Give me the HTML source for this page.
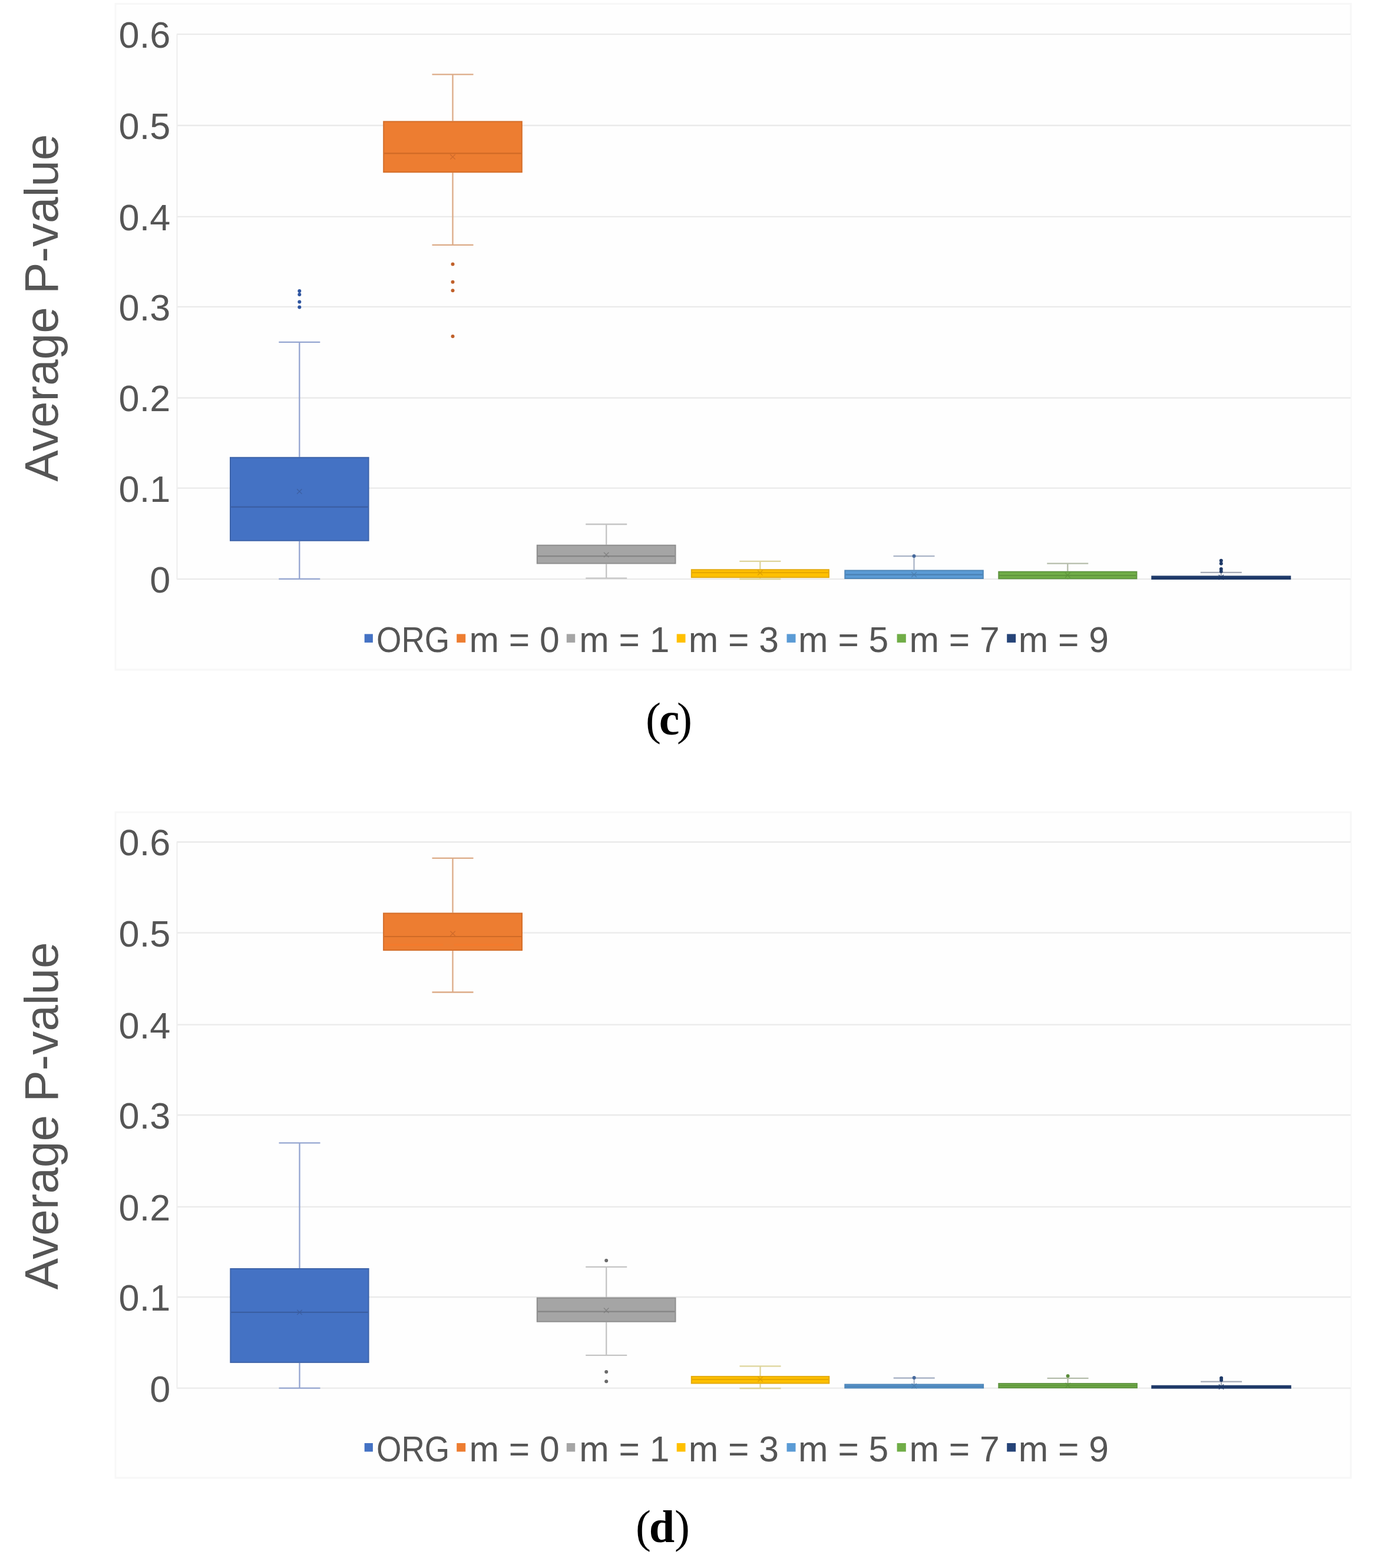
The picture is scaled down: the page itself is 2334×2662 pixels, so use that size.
<!DOCTYPE html><html><head><meta charset="utf-8"><title>Average P-value box plots (c) and (d)</title>
<style>html,body{margin:0;padding:0;background:#fff;}svg{display:block;}.t{font-family:"Liberation Sans",Arial,sans-serif;fill:#555555;}.cap{font-family:"Liberation Serif","Times New Roman",serif;font-weight:bold;fill:#000;}</style></head><body>
<svg width="2334" height="2662" viewBox="0 0 2334 2662">
<rect x="0" y="0" width="2334" height="2662" fill="#ffffff"/>
<rect x="196" y="6.5" width="2097" height="1130.5" fill="#FEFEFE" stroke="#F7F7F7" stroke-width="3"/>
<rect x="300.5" y="58.2" width="1992.2" height="925" fill="#FEFEFE"/>
<line x1="300" y1="983.2" x2="2292.7" y2="983.2" stroke="#EAEAEA" stroke-width="2.3"/>
<line x1="300" y1="828.7" x2="2292.7" y2="828.7" stroke="#EAEAEA" stroke-width="2.3"/>
<line x1="300" y1="675.5" x2="2292.7" y2="675.5" stroke="#EAEAEA" stroke-width="2.3"/>
<line x1="300" y1="520.9" x2="2292.7" y2="520.9" stroke="#EAEAEA" stroke-width="2.3"/>
<line x1="300" y1="367.8" x2="2292.7" y2="367.8" stroke="#EAEAEA" stroke-width="2.3"/>
<line x1="300" y1="213" x2="2292.7" y2="213" stroke="#EAEAEA" stroke-width="2.3"/>
<line x1="300" y1="58.2" x2="2292.7" y2="58.2" stroke="#EAEAEA" stroke-width="2.3"/>
<line x1="300.5" y1="58.2" x2="300.5" y2="983.2" stroke="#EEEEEE" stroke-width="2"/>
<text class="t" x="289.2" y="1006.1" font-size="63" text-anchor="end">0</text>
<text class="t" x="289.2" y="851.6" font-size="63" text-anchor="end">0.1</text>
<text class="t" x="289.2" y="698.4" font-size="63" text-anchor="end">0.2</text>
<text class="t" x="289.2" y="543.8" font-size="63" text-anchor="end">0.3</text>
<text class="t" x="289.2" y="390.7" font-size="63" text-anchor="end">0.4</text>
<text class="t" x="289.2" y="235.9" font-size="63" text-anchor="end">0.5</text>
<text class="t" x="289.2" y="81.1" font-size="63" text-anchor="end">0.6</text>
<text class="t" transform="translate(97.9,817.8) rotate(-90)" x="0" y="0" font-size="80">Average P-value</text>
<line x1="508.3" y1="580.9" x2="508.3" y2="775.8" stroke="#94A5D0" stroke-width="2.3"/>
<line x1="508.3" y1="918.8" x2="508.3" y2="982.8" stroke="#94A5D0" stroke-width="2.3"/>
<line x1="473.3" y1="580.9" x2="543.3" y2="580.9" stroke="#94A5D0" stroke-width="2.3"/>
<line x1="473.3" y1="982.8" x2="543.3" y2="982.8" stroke="#94A5D0" stroke-width="2.3"/>
<rect x="391" y="776.8" width="234.6" height="141" fill="#4472C4" stroke="#3E64AA" stroke-width="2"/>
<line x1="392" y1="860.6" x2="624.6" y2="860.6" stroke="#3A5EA2" stroke-width="2.2"/>
<path d="M504.1 830.2L512.5 838.6M512.5 830.2L504.1 838.6" stroke="#3C5C9C" stroke-width="1.4" fill="none" opacity="0.8"/>
<circle cx="508.3" cy="494" r="3" fill="#2F55A0"/>
<circle cx="508.3" cy="500" r="3" fill="#2F55A0"/>
<circle cx="508.3" cy="512.5" r="3" fill="#2F55A0"/>
<circle cx="508.3" cy="521.6" r="3" fill="#2F55A0"/>
<line x1="768.5" y1="126.4" x2="768.5" y2="205.4" stroke="#DCAA86" stroke-width="2.3"/>
<line x1="768.5" y1="293.2" x2="768.5" y2="415.9" stroke="#DCAA86" stroke-width="2.3"/>
<line x1="733.5" y1="126.4" x2="803.5" y2="126.4" stroke="#DCAA86" stroke-width="2.3"/>
<line x1="733.5" y1="415.9" x2="803.5" y2="415.9" stroke="#DCAA86" stroke-width="2.3"/>
<rect x="651.2" y="206.4" width="234.6" height="85.8" fill="#ED7D31" stroke="#D46E2A" stroke-width="2"/>
<line x1="652.2" y1="260.4" x2="884.8" y2="260.4" stroke="#D06A26" stroke-width="2.2"/>
<path d="M764.3 262.2L772.7 270.6M772.7 262.2L764.3 270.6" stroke="#C8662A" stroke-width="1.4" fill="none" opacity="0.8"/>
<circle cx="768.5" cy="448.4" r="3" fill="#C0602A"/>
<circle cx="768.5" cy="478.8" r="3" fill="#C0602A"/>
<circle cx="768.5" cy="493.2" r="3" fill="#C0602A"/>
<circle cx="768.5" cy="570.9" r="3" fill="#C0602A"/>
<line x1="1029.2" y1="890" x2="1029.2" y2="924.7" stroke="#C4C4C4" stroke-width="2.3"/>
<line x1="1029.2" y1="957.5" x2="1029.2" y2="981.7" stroke="#C4C4C4" stroke-width="2.3"/>
<line x1="994.2" y1="890" x2="1064.2" y2="890" stroke="#C4C4C4" stroke-width="2.3"/>
<line x1="994.2" y1="981.7" x2="1064.2" y2="981.7" stroke="#C4C4C4" stroke-width="2.3"/>
<rect x="911.8" y="925.7" width="234.7" height="30.8" fill="#A5A5A5" stroke="#8E8E8E" stroke-width="2"/>
<line x1="912.8" y1="944.2" x2="1145.5" y2="944.2" stroke="#858585" stroke-width="2.2"/>
<path d="M1025 937.7L1033.4 946.1M1033.4 937.7L1025 946.1" stroke="#7A7A7A" stroke-width="1.4" fill="none" opacity="0.8"/>
<line x1="1290.3" y1="952.9" x2="1290.3" y2="966.2" stroke="#DDD49A" stroke-width="2.3"/>
<line x1="1290.3" y1="981.2" x2="1290.3" y2="983" stroke="#DDD49A" stroke-width="2.3"/>
<line x1="1255.3" y1="952.9" x2="1325.3" y2="952.9" stroke="#DDD49A" stroke-width="2.3"/>
<line x1="1255.3" y1="983" x2="1325.3" y2="983" stroke="#DDD49A" stroke-width="2.3"/>
<rect x="1173.8" y="967.2" width="233.1" height="13" fill="#FFC000" stroke="#E3AA0C" stroke-width="2"/>
<line x1="1174.8" y1="972.2" x2="1405.9" y2="972.2" stroke="#E6A800" stroke-width="2.2"/>
<path d="M1286.1 968.3L1294.5 976.7M1294.5 968.3L1286.1 976.7" stroke="#D99A00" stroke-width="1.4" fill="none" opacity="0.8"/>
<line x1="1551.5" y1="944.1" x2="1551.5" y2="967.5" stroke="#A9B3C6" stroke-width="2.3"/>
<line x1="1551.5" y1="983" x2="1551.5" y2="981" stroke="#A9B3C6" stroke-width="2.3"/>
<line x1="1516.5" y1="944.1" x2="1586.5" y2="944.1" stroke="#A9B3C6" stroke-width="2.3"/>
<line x1="1516.5" y1="981" x2="1586.5" y2="981" stroke="#A9B3C6" stroke-width="2.3"/>
<rect x="1434.3" y="968.5" width="234.5" height="13.5" fill="#5B9BD5" stroke="#4E86B8" stroke-width="2"/>
<line x1="1435.3" y1="975.7" x2="1667.8" y2="975.7" stroke="#4A80B2" stroke-width="2.2"/>
<path d="M1547.3 971.3L1555.8 979.7M1555.8 971.3L1547.3 979.7" stroke="#4A7AAA" stroke-width="1.4" fill="none" opacity="0.8"/>
<circle cx="1551.5" cy="944" r="3" fill="#46699C"/>
<line x1="1812.3" y1="956.6" x2="1812.3" y2="969.7" stroke="#B4BCAA" stroke-width="2.3"/>
<line x1="1812.3" y1="983.3" x2="1812.3" y2="981" stroke="#B4BCAA" stroke-width="2.3"/>
<line x1="1777.3" y1="956.6" x2="1847.3" y2="956.6" stroke="#B4BCAA" stroke-width="2.3"/>
<line x1="1777.3" y1="981" x2="1847.3" y2="981" stroke="#B4BCAA" stroke-width="2.3"/>
<rect x="1695.3" y="970.7" width="234.1" height="11.6" fill="#70AD47" stroke="#5F9440" stroke-width="2"/>
<line x1="1696.3" y1="977" x2="1928.4" y2="977" stroke="#5E943C" stroke-width="2.2"/>
<path d="M1808.1 972.3L1816.5 980.7M1816.5 972.3L1808.1 980.7" stroke="#5A9038" stroke-width="1.4" fill="none" opacity="0.8"/>
<line x1="2072.8" y1="971.9" x2="2072.8" y2="977.4" stroke="#A4A9B6" stroke-width="2.3"/>
<line x1="2072.8" y1="984" x2="2072.8" y2="981" stroke="#A4A9B6" stroke-width="2.3"/>
<line x1="2037.8" y1="971.9" x2="2107.8" y2="971.9" stroke="#A4A9B6" stroke-width="2.3"/>
<line x1="2037.8" y1="981" x2="2107.8" y2="981" stroke="#A4A9B6" stroke-width="2.3"/>
<rect x="1955.3" y="978.4" width="235" height="4.6" fill="#264478" stroke="#1F3A68" stroke-width="2"/>
<line x1="1956.3" y1="981" x2="2189.3" y2="981" stroke="#1E3866" stroke-width="2.2"/>
<path d="M2068.6 975.8L2077 984.2M2077 975.8L2068.6 984.2" stroke="#1E3866" stroke-width="1.4" fill="none" opacity="0.8"/>
<circle cx="2072.8" cy="951.7" r="3" fill="#1F3A68"/>
<circle cx="2072.8" cy="956.7" r="3" fill="#1F3A68"/>
<circle cx="2072.8" cy="966" r="3" fill="#1F3A68"/>
<circle cx="2072.8" cy="970" r="3" fill="#1F3A68"/>
<rect x="618.7" y="1076.4" width="14.2" height="14.5" fill="#4472C4"/>
<text class="t" x="639" y="1107" font-size="60.6" textLength="124.3" lengthAdjust="spacingAndGlyphs">ORG</text>
<rect x="775.2" y="1076.4" width="15" height="14.5" fill="#ED7D31"/>
<text class="t" x="796.4" y="1107" font-size="60.6">m = 0</text>
<rect x="961.8" y="1076.4" width="14.4" height="14.5" fill="#A5A5A5"/>
<text class="t" x="983.2" y="1107" font-size="60.6">m = 1</text>
<rect x="1148.7" y="1076.4" width="14.8" height="14.5" fill="#FFC000"/>
<text class="t" x="1168.8" y="1107" font-size="60.6">m = 3</text>
<rect x="1335.5" y="1076.4" width="15" height="14.5" fill="#5B9BD5"/>
<text class="t" x="1355.1" y="1107" font-size="60.6">m = 5</text>
<rect x="1522.6" y="1076.4" width="15.2" height="14.5" fill="#70AD47"/>
<text class="t" x="1543.5" y="1107" font-size="60.6">m = 7</text>
<rect x="1709.2" y="1076.4" width="15" height="14.5" fill="#264478"/>
<text class="t" x="1728.8" y="1107" font-size="60.6">m = 9</text>
<text class="cap" y="1246.5" font-size="78"><tspan x="1096" font-weight="normal">(</tspan><tspan x="1118.8">c</tspan><tspan x="1149" font-weight="normal">)</tspan></text>
<rect x="196" y="1379" width="2097" height="1130" fill="#FEFEFE" stroke="#F7F7F7" stroke-width="3"/>
<rect x="300.5" y="1429.5" width="1992.2" height="927.2" fill="#FEFEFE"/>
<line x1="300" y1="2356.7" x2="2292.7" y2="2356.7" stroke="#EAEAEA" stroke-width="2.3"/>
<line x1="300" y1="2202" x2="2292.7" y2="2202" stroke="#EAEAEA" stroke-width="2.3"/>
<line x1="300" y1="2048.8" x2="2292.7" y2="2048.8" stroke="#EAEAEA" stroke-width="2.3"/>
<line x1="300" y1="1893" x2="2292.7" y2="1893" stroke="#EAEAEA" stroke-width="2.3"/>
<line x1="300" y1="1739.6" x2="2292.7" y2="1739.6" stroke="#EAEAEA" stroke-width="2.3"/>
<line x1="300" y1="1583.7" x2="2292.7" y2="1583.7" stroke="#EAEAEA" stroke-width="2.3"/>
<line x1="300" y1="1429.5" x2="2292.7" y2="1429.5" stroke="#EAEAEA" stroke-width="2.3"/>
<line x1="300.5" y1="1429.5" x2="300.5" y2="2356.7" stroke="#EEEEEE" stroke-width="2"/>
<text class="t" x="289.2" y="2379.6" font-size="63" text-anchor="end">0</text>
<text class="t" x="289.2" y="2224.9" font-size="63" text-anchor="end">0.1</text>
<text class="t" x="289.2" y="2071.7" font-size="63" text-anchor="end">0.2</text>
<text class="t" x="289.2" y="1915.9" font-size="63" text-anchor="end">0.3</text>
<text class="t" x="289.2" y="1762.5" font-size="63" text-anchor="end">0.4</text>
<text class="t" x="289.2" y="1606.6" font-size="63" text-anchor="end">0.5</text>
<text class="t" x="289.2" y="1452.4" font-size="63" text-anchor="end">0.6</text>
<text class="t" transform="translate(97.9,2189.6) rotate(-90)" x="0" y="0" font-size="80">Average P-value</text>
<line x1="508.5" y1="1940.3" x2="508.5" y2="2153" stroke="#94A5D0" stroke-width="2.3"/>
<line x1="508.5" y1="2313.9" x2="508.5" y2="2356.6" stroke="#94A5D0" stroke-width="2.3"/>
<line x1="473.5" y1="1940.3" x2="543.5" y2="1940.3" stroke="#94A5D0" stroke-width="2.3"/>
<line x1="473.5" y1="2356.6" x2="543.5" y2="2356.6" stroke="#94A5D0" stroke-width="2.3"/>
<rect x="391.3" y="2154" width="234.3" height="158.9" fill="#4472C4" stroke="#3E64AA" stroke-width="2"/>
<line x1="392.3" y1="2227.9" x2="624.6" y2="2227.9" stroke="#3A5EA2" stroke-width="2.2"/>
<path d="M504.3 2223.7L512.7 2232.1M512.7 2223.7L504.3 2232.1" stroke="#3C5C9C" stroke-width="1.4" fill="none" opacity="0.8"/>
<line x1="768.5" y1="1456.8" x2="768.5" y2="1549.5" stroke="#DCAA86" stroke-width="2.3"/>
<line x1="768.5" y1="1614.1" x2="768.5" y2="1684.5" stroke="#DCAA86" stroke-width="2.3"/>
<line x1="733.5" y1="1456.8" x2="803.5" y2="1456.8" stroke="#DCAA86" stroke-width="2.3"/>
<line x1="733.5" y1="1684.5" x2="803.5" y2="1684.5" stroke="#DCAA86" stroke-width="2.3"/>
<rect x="651.1" y="1550.5" width="234.9" height="62.6" fill="#ED7D31" stroke="#D46E2A" stroke-width="2"/>
<line x1="652.1" y1="1590" x2="885" y2="1590" stroke="#D06A26" stroke-width="2.2"/>
<path d="M764.3 1580.7L772.8 1589.1M772.8 1580.7L764.3 1589.1" stroke="#C8662A" stroke-width="1.4" fill="none" opacity="0.8"/>
<line x1="652" y1="1603.9" x2="752.4" y2="1603.9" stroke="#F47A2C" stroke-width="3"/>
<line x1="770.6" y1="1603.9" x2="872" y2="1603.9" stroke="#F47A2C" stroke-width="3"/>
<line x1="1029.2" y1="2150.9" x2="1029.2" y2="2202.5" stroke="#C4C4C4" stroke-width="2.3"/>
<line x1="1029.2" y1="2244.7" x2="1029.2" y2="2300.8" stroke="#C4C4C4" stroke-width="2.3"/>
<line x1="994.2" y1="2150.9" x2="1064.2" y2="2150.9" stroke="#C4C4C4" stroke-width="2.3"/>
<line x1="994.2" y1="2300.8" x2="1064.2" y2="2300.8" stroke="#C4C4C4" stroke-width="2.3"/>
<rect x="911.8" y="2203.5" width="234.7" height="40.2" fill="#A5A5A5" stroke="#8E8E8E" stroke-width="2"/>
<line x1="912.8" y1="2226.7" x2="1145.5" y2="2226.7" stroke="#858585" stroke-width="2.2"/>
<path d="M1025 2220.5L1033.4 2228.9M1033.4 2220.5L1025 2228.9" stroke="#7A7A7A" stroke-width="1.4" fill="none" opacity="0.8"/>
<circle cx="1029.2" cy="2140" r="3" fill="#6A6A6A"/>
<circle cx="1029.2" cy="2328.9" r="3" fill="#6A6A6A"/>
<circle cx="1029.2" cy="2345.3" r="3" fill="#6A6A6A"/>
<line x1="1290.5" y1="2319.3" x2="1290.5" y2="2335.9" stroke="#DDD49A" stroke-width="2.3"/>
<line x1="1290.5" y1="2349.4" x2="1290.5" y2="2357" stroke="#DDD49A" stroke-width="2.3"/>
<line x1="1255.5" y1="2319.3" x2="1325.5" y2="2319.3" stroke="#DDD49A" stroke-width="2.3"/>
<line x1="1255.5" y1="2357" x2="1325.5" y2="2357" stroke="#DDD49A" stroke-width="2.3"/>
<rect x="1173.8" y="2336.9" width="233.5" height="11.5" fill="#FFC000" stroke="#E3AA0C" stroke-width="2"/>
<line x1="1174.8" y1="2341.9" x2="1406.3" y2="2341.9" stroke="#E6A800" stroke-width="2.2"/>
<path d="M1286.3 2337.3L1294.8 2345.7M1294.8 2337.3L1286.3 2345.7" stroke="#D99A00" stroke-width="1.4" fill="none" opacity="0.8"/>
<line x1="1551.7" y1="2339.5" x2="1551.7" y2="2349.4" stroke="#A9B3C6" stroke-width="2.3"/>
<line x1="1551.7" y1="2357.3" x2="1551.7" y2="2355" stroke="#A9B3C6" stroke-width="2.3"/>
<line x1="1516.7" y1="2339.5" x2="1586.7" y2="2339.5" stroke="#A9B3C6" stroke-width="2.3"/>
<line x1="1516.7" y1="2355" x2="1586.7" y2="2355" stroke="#A9B3C6" stroke-width="2.3"/>
<rect x="1434.3" y="2350.4" width="234.8" height="5.9" fill="#5B9BD5" stroke="#4E86B8" stroke-width="2"/>
<line x1="1435.3" y1="2353.5" x2="1668.1" y2="2353.5" stroke="#4A80B2" stroke-width="2.2"/>
<path d="M1547.5 2348.8L1555.9 2357.2M1555.9 2348.8L1547.5 2357.2" stroke="#4A7AAA" stroke-width="1.4" fill="none" opacity="0.8"/>
<circle cx="1551.7" cy="2339" r="3" fill="#46699C"/>
<line x1="1812.6" y1="2339.9" x2="1812.6" y2="2347.9" stroke="#B4BCAA" stroke-width="2.3"/>
<line x1="1812.6" y1="2357" x2="1812.6" y2="2355" stroke="#B4BCAA" stroke-width="2.3"/>
<line x1="1777.6" y1="2339.9" x2="1847.6" y2="2339.9" stroke="#B4BCAA" stroke-width="2.3"/>
<line x1="1777.6" y1="2355" x2="1847.6" y2="2355" stroke="#B4BCAA" stroke-width="2.3"/>
<rect x="1695.3" y="2348.9" width="234.6" height="7.1" fill="#70AD47" stroke="#5F9440" stroke-width="2"/>
<line x1="1696.3" y1="2352.5" x2="1928.9" y2="2352.5" stroke="#5E943C" stroke-width="2.2"/>
<path d="M1808.4 2347.8L1816.8 2356.2M1816.8 2347.8L1808.4 2356.2" stroke="#5A9038" stroke-width="1.4" fill="none" opacity="0.8"/>
<circle cx="1812.6" cy="2336" r="3" fill="#5A8C3A"/>
<line x1="2073.1" y1="2345.7" x2="2073.1" y2="2351.7" stroke="#A4A9B6" stroke-width="2.3"/>
<line x1="2073.1" y1="2357.6" x2="2073.1" y2="2355" stroke="#A4A9B6" stroke-width="2.3"/>
<line x1="2038.1" y1="2345.7" x2="2108.1" y2="2345.7" stroke="#A4A9B6" stroke-width="2.3"/>
<line x1="2038.1" y1="2355" x2="2108.1" y2="2355" stroke="#A4A9B6" stroke-width="2.3"/>
<rect x="1955.3" y="2352.7" width="235.5" height="3.9" fill="#264478" stroke="#1F3A68" stroke-width="2"/>
<line x1="1956.3" y1="2355" x2="2189.8" y2="2355" stroke="#1E3866" stroke-width="2.2"/>
<path d="M2068.9 2350.3L2077.2 2358.7M2077.2 2350.3L2068.9 2358.7" stroke="#1E3866" stroke-width="1.4" fill="none" opacity="0.8"/>
<circle cx="2073.1" cy="2339.6" r="3" fill="#1F3A68"/>
<circle cx="2073.1" cy="2342.9" r="3" fill="#1F3A68"/>
<rect x="618.7" y="2450" width="14.2" height="14.5" fill="#4472C4"/>
<text class="t" x="639" y="2480.6" font-size="60.6" textLength="124.3" lengthAdjust="spacingAndGlyphs">ORG</text>
<rect x="775.2" y="2450" width="15" height="14.5" fill="#ED7D31"/>
<text class="t" x="796.4" y="2480.6" font-size="60.6">m = 0</text>
<rect x="961.8" y="2450" width="14.4" height="14.5" fill="#A5A5A5"/>
<text class="t" x="983.2" y="2480.6" font-size="60.6">m = 1</text>
<rect x="1148.7" y="2450" width="14.8" height="14.5" fill="#FFC000"/>
<text class="t" x="1168.8" y="2480.6" font-size="60.6">m = 3</text>
<rect x="1335.5" y="2450" width="15" height="14.5" fill="#5B9BD5"/>
<text class="t" x="1355.1" y="2480.6" font-size="60.6">m = 5</text>
<rect x="1522.6" y="2450" width="15.2" height="14.5" fill="#70AD47"/>
<text class="t" x="1543.5" y="2480.6" font-size="60.6">m = 7</text>
<rect x="1709.2" y="2450" width="15" height="14.5" fill="#264478"/>
<text class="t" x="1728.8" y="2480.6" font-size="60.6">m = 9</text>
<text class="cap" y="2618" font-size="78"><tspan x="1079" font-weight="normal">(</tspan><tspan x="1101.8">d</tspan><tspan x="1145" font-weight="normal">)</tspan></text>
</svg></body></html>
